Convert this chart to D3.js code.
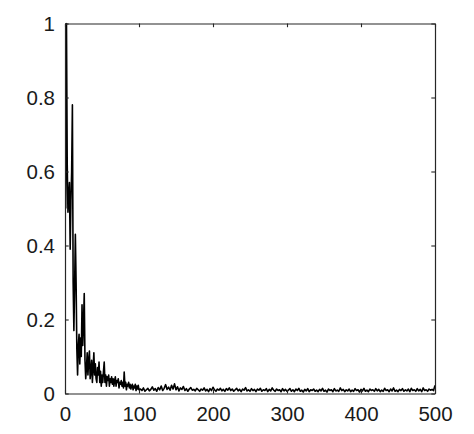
<!DOCTYPE html>
<html>
<head>
<meta charset="utf-8">
<script src="https://cdn.jsdelivr.net/npm/d3@7/dist/d3.min.js"></script>
<style>
  html, body { margin: 0; padding: 0; background: #fff; }
  svg { display: block; }
  text { font-family: "Liberation Sans", Arial, sans-serif; }
</style>
</head>
<body>
<svg id="chart" width="474" height="434"></svg>
<script>
// ---- data ----
const xTicks = [0, 100, 200, 300, 400, 500];
const yTicks = [0, 0.2, 0.4, 0.6, 0.8, 1];
const yTickLabels = ["0", "0.2", "0.4", "0.6", "0.8", "1"];

// values at x = 1..100 (step 1)
const headY = [
  0.50, 1.0, 0.62, 0.49, 0.53, 0.57, 0.39, 0.52, 0.60, 0.78,
  0.30, 0.17, 0.29, 0.43, 0.30, 0.12, 0.05, 0.13, 0.16, 0.08,
  0.15, 0.10, 0.24, 0.13, 0.19, 0.27, 0.09, 0.04, 0.07, 0.11,
  0.05, 0.09, 0.115, 0.04, 0.06, 0.09, 0.03, 0.07, 0.11, 0.05,
  0.08, 0.04, 0.03, 0.07, 0.05, 0.085, 0.03, 0.06, 0.02, 0.05,
  0.03, 0.06, 0.085, 0.03, 0.05, 0.02, 0.045, 0.035, 0.05, 0.02,
  0.04, 0.03, 0.045, 0.025, 0.04, 0.02, 0.035, 0.045, 0.02, 0.035,
  0.03, 0.04, 0.015, 0.03, 0.025, 0.035, 0.02, 0.03, 0.015, 0.058,
  0.02, 0.03, 0.01, 0.025, 0.02, 0.03, 0.015, 0.025, 0.012, 0.02,
  0.025, 0.01, 0.02, 0.015, 0.025, 0.008, 0.02, 0.012, 0.022, 0.01
];
// values at x = 102..500 (step 2)
const tailY = [
  0.012,0.008,0.015,0.006,0.010,0.014,0.007,0.011,0.018,0.009,0.013,0.006,0.016,0.010,0.020,0.008,0.014,0.024,0.011,0.017,
  0.009,0.022,0.012,0.026,0.010,0.018,0.007,0.015,0.011,0.019,0.008,0.013,0.006,0.012,0.016,0.009,0.011,0.007,0.014,0.010,
  0.006,0.012,0.009,0.015,0.007,0.011,0.005,0.013,0.008,0.017,0.010,0.006,0.012,0.009,0.014,0.007,0.011,0.006,0.013,0.009,
  0.015,0.008,0.012,0.006,0.010,0.014,0.007,0.011,0.005,0.012,0.009,0.016,0.007,0.010,0.006,0.013,0.008,0.011,0.005,0.012,
  0.009,0.014,0.006,0.010,0.008,0.013,0.005,0.011,0.007,0.015,0.009,0.006,0.012,0.008,0.010,0.005,0.013,0.007,0.011,0.006,
  0.009,0.013,0.006,0.010,0.005,0.012,0.008,0.014,0.006,0.009,0.004,0.011,0.007,0.013,0.005,0.010,0.008,0.012,0.006,0.009,
  0.005,0.011,0.007,0.014,0.006,0.009,0.004,0.012,0.008,0.010,0.005,0.013,0.007,0.009,0.006,0.015,0.008,0.011,0.005,0.010,
  0.007,0.012,0.005,0.009,0.006,0.013,0.008,0.010,0.004,0.011,0.007,0.014,0.006,0.009,0.005,0.012,0.008,0.010,0.006,0.013,
  0.007,0.011,0.005,0.009,0.006,0.014,0.008,0.010,0.005,0.012,0.007,0.015,0.006,0.009,0.005,0.011,0.008,0.013,0.006,0.010,
  0.007,0.012,0.005,0.014,0.008,0.010,0.006,0.013,0.007,0.011,0.005,0.015,0.008,0.010,0.006,0.012,0.009,0.011,0.008,0.022
];

const points = [];
headY.forEach((v, i) => points.push([i + 1, v]));
tailY.forEach((v, i) => points.push([102 + 2 * i, v]));

// ---- layout ----
const L = 65, R = 435, T = 23.5, B = 393.5;
const axisColor = "#262626";
const tickLen = 3.7;

const svg = d3.select("#chart");
const x = d3.scaleLinear().domain([0, 500]).range([L, R]);
const y = d3.scaleLinear().domain([0, 1]).range([B, T]);

svg.append("clipPath").attr("id", "clip")
  .append("rect").attr("x", L).attr("y", T - 1).attr("width", R - L).attr("height", B - T + 1);

svg.append("path")
  .datum(points)
  .attr("clip-path", "url(#clip)")
  .attr("fill", "none")
  .attr("stroke", "#000")
  .attr("stroke-width", 1.6)
  .attr("stroke-linejoin", "round")
  .attr("d", d3.line().x(d => x(d[0])).y(d => y(d[1])));

const fmtY = (d) => yTickLabels[yTicks.indexOf(d)];

const gB = svg.append("g").attr("transform", `translate(0,${B})`)
  .call(d3.axisBottom(x).tickValues(xTicks).tickSizeInner(-tickLen).tickSizeOuter(0).tickPadding(13));
const gT = svg.append("g").attr("transform", `translate(0,${T})`)
  .call(d3.axisTop(x).tickValues(xTicks).tickSizeInner(-tickLen).tickSizeOuter(0).tickFormat(""));
const gL = svg.append("g").attr("transform", `translate(${L},0)`)
  .call(d3.axisLeft(y).tickValues(yTicks).tickSizeInner(-tickLen).tickSizeOuter(0).tickPadding(10).tickFormat(fmtY));
const gR = svg.append("g").attr("transform", `translate(${R},0)`)
  .call(d3.axisRight(y).tickValues(yTicks).tickSizeInner(-tickLen).tickSizeOuter(0).tickFormat(""));

[gB, gT, gL, gR].forEach(g => {
  g.select(".domain").attr("stroke", axisColor).attr("stroke-width", 1.2);
  g.selectAll(".tick line").attr("stroke", axisColor).attr("stroke-width", 1.1);
  g.selectAll(".tick text").attr("fill", "#1a1a1a").style("font-size", "20.5px")
    .style("font-family", "'Liberation Sans', Arial, sans-serif");
});
</script>
</body>
</html>
